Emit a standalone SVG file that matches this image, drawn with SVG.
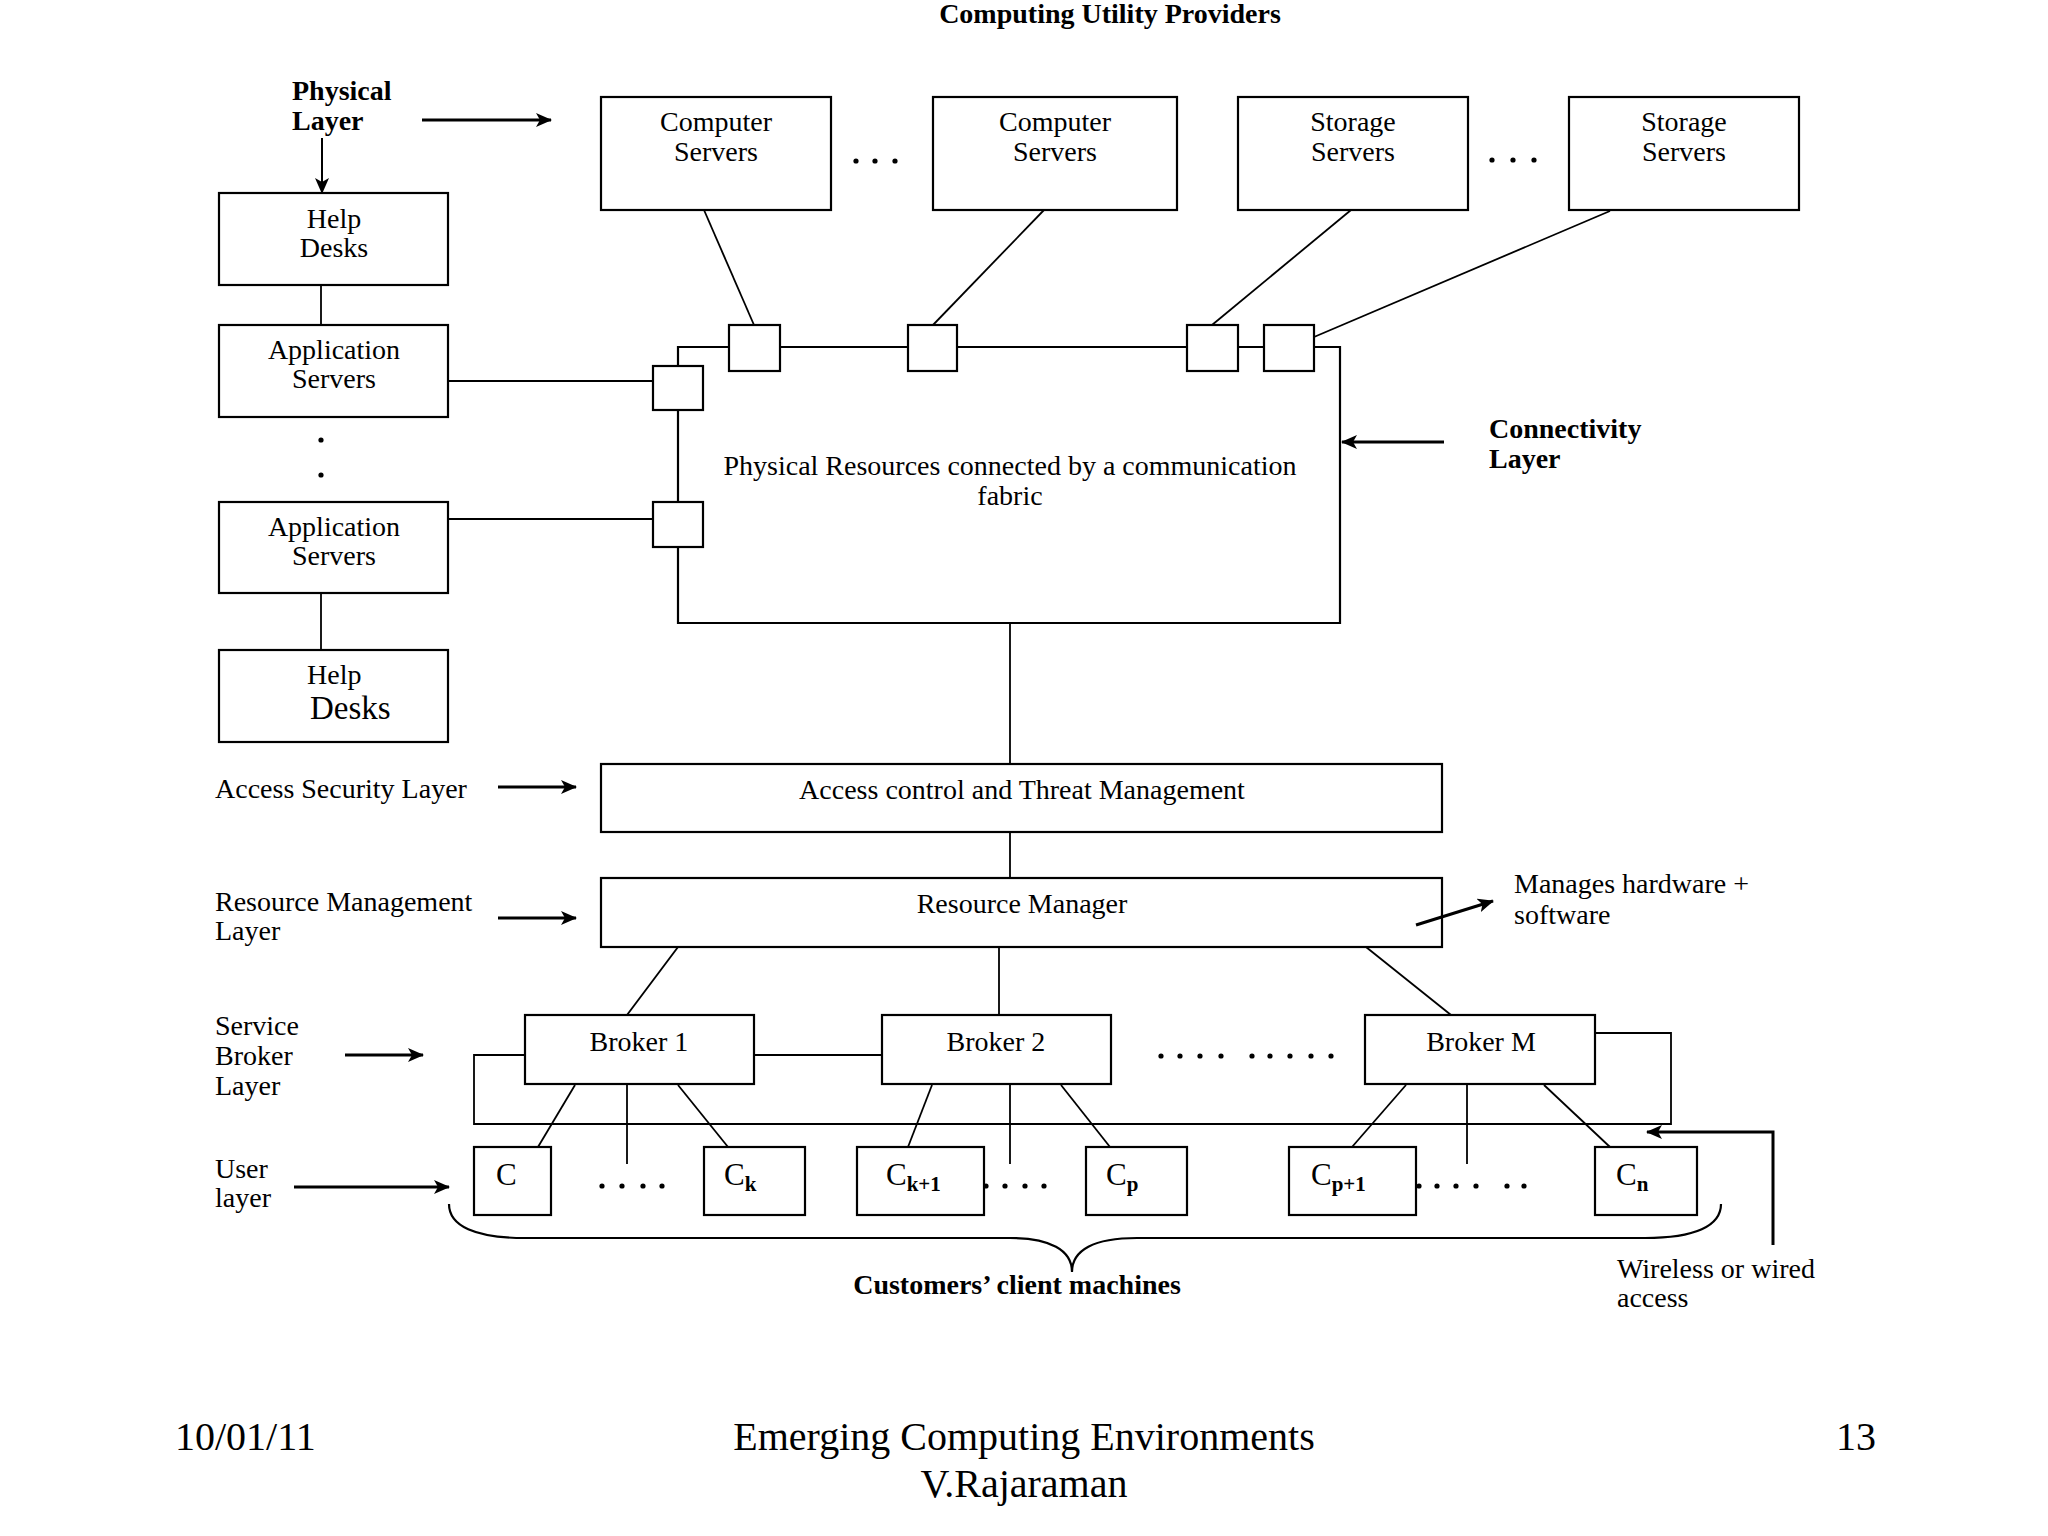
<svg xmlns="http://www.w3.org/2000/svg" width="2048" height="1536" viewBox="0 0 2048 1536">
<style>
text{font-family:"Liberation Serif","Times New Roman",serif;font-size:28px;fill:#000}
.b{font-weight:bold}
.c{text-anchor:middle}
.box{fill:#fff;stroke:#000;stroke-width:2.2}
.ln{fill:none;stroke:#000;stroke-width:1.8}
.ar{fill:none;stroke:#000;stroke-width:3;marker-end:url(#ah)}
.ft{font-size:40px}
.cl{font-size:31px}
.sb{font-size:21px;font-weight:bold}
</style>
<defs>
<marker id="ah" viewBox="0 0 16 14" refX="15" refY="7" markerWidth="16" markerHeight="14" orient="auto" markerUnits="userSpaceOnUse">
<path d="M0,0 L16,7 L0,14 L4,7 z" fill="#000"/>
</marker>
</defs>
<rect width="2048" height="1536" fill="#fff"/>

<text class="b c" x="1110" y="23">Computing Utility Providers</text>

<g id="connectors">
<!-- servers to ports -->
<line class="ln" x1="704" y1="210" x2="754" y2="325"/>
<line class="ln" x1="1044" y1="210" x2="933" y2="325"/>
<line class="ln" x1="1351" y1="210" x2="1212" y2="325"/>
<line class="ln" x1="1610" y1="211" x2="1314" y2="337"/>
<!-- left column -->
<line class="ln" x1="321" y1="285" x2="321" y2="325"/>
<line class="ln" x1="321" y1="593" x2="321" y2="650"/>
<line class="ln" x1="448" y1="381" x2="653" y2="381"/>
<line class="ln" x1="448" y1="519" x2="653" y2="519"/>
<!-- vertical chain -->
<line class="ln" x1="1010" y1="623" x2="1010" y2="764"/>
<line class="ln" x1="1010" y1="832" x2="1010" y2="878"/>
<!-- RM to brokers -->
<line class="ln" x1="678" y1="947" x2="627" y2="1015"/>
<line class="ln" x1="999" y1="947" x2="999" y2="1015"/>
<line class="ln" x1="1366" y1="947" x2="1451" y2="1015"/>
<!-- broker links -->
<line class="ln" x1="754" y1="1055" x2="882" y2="1055"/>
<path class="ln" d="M525,1055 L474,1055 L474,1124 L1671,1124 L1671,1033 L1595,1033"/>
<!-- brokers to clients -->
<line class="ln" x1="575" y1="1085" x2="538" y2="1147"/>
<line class="ln" x1="627" y1="1085" x2="627" y2="1164"/>
<line class="ln" x1="678" y1="1085" x2="728" y2="1147"/>
<line class="ln" x1="932" y1="1085" x2="908" y2="1147"/>
<line class="ln" x1="1010" y1="1085" x2="1010" y2="1164"/>
<line class="ln" x1="1061" y1="1085" x2="1110" y2="1147"/>
<line class="ln" x1="1406" y1="1085" x2="1352" y2="1147"/>
<line class="ln" x1="1467" y1="1085" x2="1467" y2="1164"/>
<line class="ln" x1="1544" y1="1085" x2="1610" y2="1147"/>
<!-- label arrows -->
<line class="ar" x1="422" y1="120" x2="551" y2="120"/>
<line class="ar" style="stroke-width:2" x1="322" y1="138" x2="322" y2="193"/>
<line class="ar" x1="1444" y1="442" x2="1342" y2="442"/>
<line class="ar" x1="498" y1="787" x2="576" y2="787"/>
<line class="ar" x1="498" y1="918" x2="576" y2="918"/>
<line class="ar" x1="345" y1="1055" x2="423" y2="1055"/>
<line class="ar" x1="294" y1="1187" x2="449" y2="1187"/>
<path class="ar" d="M1773,1245 L1773,1132 L1647,1132"/>
<!-- brace -->
<path class="ln" style="stroke-width:2.2" d="M449,1204 C449,1226 475,1238 525,1238 L1010,1238 C1050,1238 1072,1250 1072,1272 C1072,1250 1094,1238 1137,1238 L1645,1238 C1695,1238 1721,1226 1721,1204"/>
</g>

<g id="fabric">
<path class="box" d="M678,347 L1340,347 L1340,623 L678,623 Z"/>
<text class="c" x="1010" y="475">Physical Resources connected by a communication</text>
<text class="c" x="1010" y="505">fabric</text>
</g>
<g id="ports">
<rect class="box" x="653" y="366" width="50" height="44"/>
<rect class="box" x="653" y="502" width="50" height="45"/>
<rect class="box" x="729" y="325" width="51" height="46"/>
<rect class="box" x="908" y="325" width="49" height="46"/>
<rect class="box" x="1187" y="325" width="51" height="46"/>
<rect class="box" x="1264" y="325" width="50" height="46"/>
</g>

<g id="server1"><rect class="box" x="601" y="97" width="230" height="113"/><text class="c" x="716" y="131">Computer</text><text class="c" x="716" y="161">Servers</text></g>
<g id="server2"><rect class="box" x="933" y="97" width="244" height="113"/><text class="c" x="1055" y="131">Computer</text><text class="c" x="1055" y="161">Servers</text></g>
<g id="storage1"><rect class="box" x="1238" y="97" width="230" height="113"/><text class="c" x="1353" y="131">Storage</text><text class="c" x="1353" y="161">Servers</text></g>
<g id="storage2"><rect class="box" x="1569" y="97" width="230" height="113"/><text class="c" x="1684" y="131">Storage</text><text class="c" x="1684" y="161">Servers</text></g>
<g id="dots-servers">
<circle cx="856" cy="161" r="2.6"/><circle cx="875" cy="161" r="2.6"/><circle cx="895" cy="161" r="2.6"/>
<circle cx="1492" cy="160" r="2.6"/><circle cx="1513" cy="160" r="2.6"/><circle cx="1534" cy="160" r="2.6"/>
</g>

<g id="physical-label"><text class="b" x="292" y="100">Physical</text><text class="b" x="292" y="130">Layer</text></g>

<g id="helpdesk1"><rect class="box" x="219" y="193" width="229" height="92"/><text class="c" x="334" y="228">Help</text><text class="c" x="334" y="257">Desks</text></g>
<g id="appserver1"><rect class="box" x="219" y="325" width="229" height="92"/><text class="c" x="334" y="359">Application</text><text class="c" x="334" y="388">Servers</text></g>
<g id="dots-left"><circle cx="321" cy="440" r="2.6"/><circle cx="321" cy="475" r="2.6"/></g>
<g id="appserver2"><rect class="box" x="219" y="502" width="229" height="91"/><text class="c" x="334" y="536">Application</text><text class="c" x="334" y="565">Servers</text></g>
<g id="helpdesk2"><rect class="box" x="219" y="650" width="229" height="92"/><text x="307" y="684">Help</text><text x="310" y="719" style="font-size:33px">Desks</text></g>

<g id="connectivity-label"><text class="b" x="1489" y="438">Connectivity</text><text class="b" x="1489" y="468">Layer</text></g>

<g id="access"><rect class="box" x="601" y="764" width="841" height="68"/><text class="c" x="1022" y="799">Access control and Threat Management</text></g>
<text x="215" y="798">Access Security Layer</text>

<g id="rm"><rect class="box" x="601" y="878" width="841" height="69"/><text class="c" x="1022" y="913">Resource Manager</text></g>
<line class="ar" x1="1416" y1="925" x2="1493" y2="901"/>
<text x="215" y="911">Resource Management</text><text x="215" y="940">Layer</text>
<text x="1514" y="893">Manages hardware +</text><text x="1514" y="924">software</text>

<g id="broker1"><rect class="box" x="525" y="1015" width="229" height="69"/><text class="c" x="639" y="1051">Broker 1</text></g>
<g id="broker2"><rect class="box" x="882" y="1015" width="229" height="69"/><text class="c" x="996" y="1051">Broker 2</text></g>
<g id="brokerM"><rect class="box" x="1365" y="1015" width="230" height="69"/><text class="c" x="1481" y="1051">Broker M</text></g>
<g id="dots-brokers">
<circle cx="1161" cy="1056" r="2.6"/><circle cx="1180" cy="1056" r="2.6"/><circle cx="1200" cy="1056" r="2.6"/><circle cx="1221" cy="1056" r="2.6"/>
<circle cx="1252" cy="1056" r="2.6"/><circle cx="1270" cy="1056" r="2.6"/><circle cx="1290" cy="1056" r="2.6"/><circle cx="1311" cy="1056" r="2.6"/><circle cx="1331" cy="1056" r="2.6"/>
</g>
<text x="215" y="1035">Service</text><text x="215" y="1065">Broker</text><text x="215" y="1095">Layer</text>
<text x="215" y="1178">User</text><text x="215" y="1207">layer</text>

<g id="c1"><rect class="box" x="474" y="1147" width="77" height="68"/><text class="cl" x="496" y="1185">C</text></g>
<g id="ck"><rect class="box" x="704" y="1147" width="101" height="68"/><text class="cl" x="724" y="1185">C<tspan class="sb" dy="6">k</tspan></text></g>
<g id="ck1"><rect class="box" x="857" y="1147" width="127" height="68"/><text class="cl" x="886" y="1185">C<tspan class="sb" dy="6">k+1</tspan></text></g>
<g id="cp"><rect class="box" x="1086" y="1147" width="101" height="68"/><text class="cl" x="1106" y="1185">C<tspan class="sb" dy="6">p</tspan></text></g>
<g id="cp1"><rect class="box" x="1289" y="1147" width="127" height="68"/><text class="cl" x="1311" y="1185">C<tspan class="sb" dy="6">p+1</tspan></text></g>
<g id="cn"><rect class="box" x="1595" y="1147" width="102" height="68"/><text class="cl" x="1616" y="1185">C<tspan class="sb" dy="6">n</tspan></text></g>
<g id="dots-clients">
<circle cx="602" cy="1186" r="2.6"/><circle cx="622" cy="1186" r="2.6"/><circle cx="643" cy="1186" r="2.6"/><circle cx="662" cy="1186" r="2.6"/>
<circle cx="986" cy="1186" r="2.6"/><circle cx="1005" cy="1186" r="2.6"/><circle cx="1025" cy="1186" r="2.6"/><circle cx="1044" cy="1186" r="2.6"/>
<circle cx="1419" cy="1186" r="2.6"/><circle cx="1437" cy="1186" r="2.6"/><circle cx="1456" cy="1186" r="2.6"/><circle cx="1476" cy="1186" r="2.6"/><circle cx="1507" cy="1186" r="2.6"/><circle cx="1524" cy="1186" r="2.6"/>
</g>
<text class="b c" x="1017" y="1294">Customers’ client machines</text>
<text x="1617" y="1278">Wireless or wired</text><text x="1617" y="1307">access</text>

<text class="ft" x="175" y="1450">10/01/11</text>
<text class="ft c" x="1024" y="1450">Emerging Computing Environments</text>
<text class="ft c" x="1024" y="1497">V.Rajaraman</text>
<text class="ft" x="1836" y="1450">13</text>
</svg>
